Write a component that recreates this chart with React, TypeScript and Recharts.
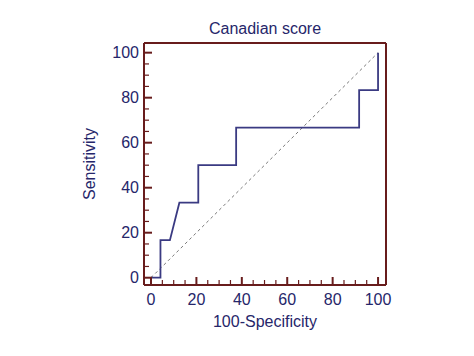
import React from 'react';
import { LineChart, Line, XAxis, YAxis } from 'recharts';

// ROC points, 100-Specificity vs Sensitivity
const fprValues = [0, 4.17, 4.17, 8.33, 12.5, 20.83, 20.83, 37.5, 37.5, 91.67, 91.67, 100, 100];
const sensValues = [0, 0, 16.67, 16.67, 33.33, 33.33, 50, 50, 66.67, 66.67, 83.33, 83.33, 100];
const chanceLine = [0, 100];
const tickValues = [0, 5, 10, 15, 20, 25, 30, 35, 40, 45, 50, 55, 60, 65, 70, 75, 80, 85, 90, 95, 100];

const FRAME = '#681c1c';
const TEXT = '#26266a';
const CURVE = '#3a3a82';
const FONT = '"Liberation Sans", Arial, sans-serif';

const rocData = fprValues.map((x, i) => ({ x, y: sensValues[i] }));
const diagData = chanceLine.map(v => ({ x: v, y: v }));

const YTick = (props: any) => {
  const { x, y, payload } = props;
  const major = payload.value % 20 === 0;
  return (
    <g>
      <line x1={x} x2={x + (major ? 8 : 5)} y1={y} y2={y} stroke={FRAME} strokeWidth={major ? 2 : 1.2} />
      {major && (
        <text x={x - 5} y={y} dy="0.36em" textAnchor="end" fill={TEXT} fontSize={16} fontFamily={FONT}>
          {payload.value}
        </text>
      )}
    </g>
  );
};

const XTick = (props: any) => {
  const { x, y, payload } = props;
  const major = payload.value % 20 === 0;
  return (
    <g>
      <line x1={x} x2={x} y1={y} y2={y - (major ? 8 : 5)} stroke={FRAME} strokeWidth={major ? 2 : 1.2} />
      {major && (
        <text x={x} y={y + 20} textAnchor="middle" fill={TEXT} fontSize={16} fontFamily={FONT}>
          {payload.value}
        </text>
      )}
    </g>
  );
};

const App = () => {
  return (
    <div style={{ position: 'absolute', left: 0, top: 0, background: '#fff' }}>
      <LineChart width={474} height={356} margin={{ top: 42, right: 87, bottom: 41, left: 84 }}>
        <XAxis
          dataKey="x"
          type="number"
          domain={[-3.08, 103.5]}
          allowDataOverflow
          ticks={tickValues}
          interval={0}
          tick={<XTick />}
          tickLine={false}
          tickSize={0}
          tickMargin={0}
          height={30}
          axisLine={{ stroke: FRAME, strokeWidth: 2 }}
          label={{ value: '100-Specificity', position: 'bottom', offset: 1, fill: TEXT, fontSize: 16, fontFamily: FONT }}
        />
        <XAxis
          xAxisId="top"
          dataKey="x"
          orientation="top"
          type="number"
          domain={[-3.08, 103.5]}
          allowDataOverflow
          tick={false}
          tickLine={false}
          height={1}
          axisLine={{ stroke: FRAME, strokeWidth: 2 }}
          label={{ value: 'Canadian score', position: 'top', offset: 8, fill: TEXT, fontSize: 16, fontFamily: FONT }}
        />
        <YAxis
          type="number"
          domain={[-3.24, 104.3]}
          allowDataOverflow
          ticks={tickValues}
          interval={0}
          tick={<YTick />}
          tickLine={false}
          tickSize={0}
          tickMargin={0}
          width={60}
          axisLine={{ stroke: FRAME, strokeWidth: 2 }}
          label={{ value: 'Sensitivity', angle: -90, position: 'insideLeft', offset: 5, fill: TEXT, fontSize: 16, fontFamily: FONT, style: { textAnchor: 'middle' } }}
        />
        <YAxis
          yAxisId="right"
          orientation="right"
          type="number"
          domain={[-3.24, 104.3]}
          allowDataOverflow
          tick={false}
          tickLine={false}
          width={1}
          axisLine={{ stroke: FRAME, strokeWidth: 2 }}
        />
        <Line
          data={diagData}
          xAxisId="top"
          yAxisId="right"
          dataKey="y"
          type="linear"
          stroke="#7a7a7a"
          strokeWidth={1}
          strokeDasharray="3 3"
          dot={false}
          isAnimationActive={false}
        />
        <Line
          data={rocData}
          dataKey="y"
          type="linear"
          stroke={CURVE}
          strokeWidth={1.8}
          dot={false}
          isAnimationActive={false}
        />
      </LineChart>
    </div>
  );
};

export default App;
